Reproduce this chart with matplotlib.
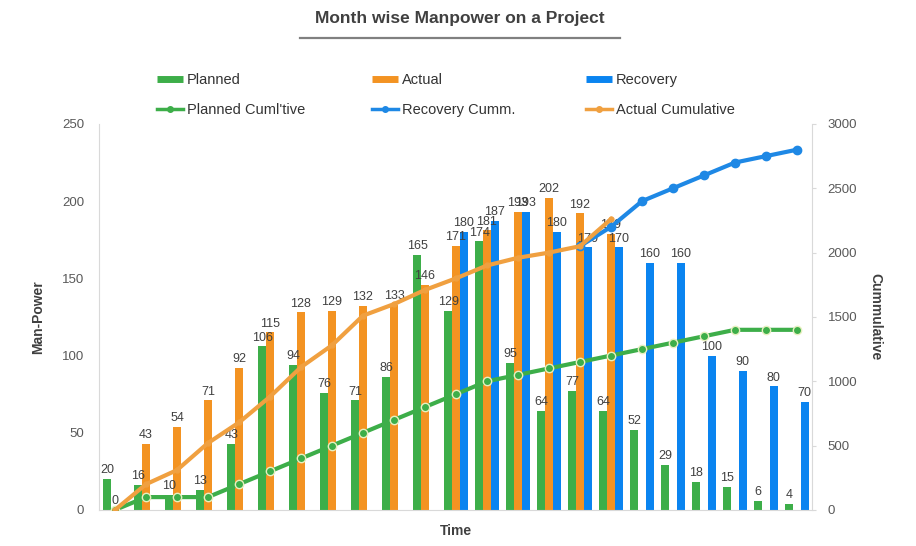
import matplotlib
matplotlib.use("Agg")
import matplotlib.pyplot as plt
from matplotlib.lines import Line2D
import numpy as np

plt.rcParams['font.family'] = ['Liberation Sans', 'DejaVu Sans']

# ---- data ----
months = list(range(1, 24))
planned = [20, 16, 10, 13, 43, 106, 94, 76, 71, 86, 165, 129, 174, 95, 64, 77, 64, 52, 29, 18, 15, 6, 4]
actual = [0, 43, 54, 71, 92, 115, 128, 129, 132, 133, 146, 171, 181, 193, 202, 192, 179]
recovery_start = 12
recovery = [180, 187, 193, 180, 170, 170, 160, 160, 100, 90, 80, 70]
planned_cum = [0, 100, 100, 100, 200, 300, 400, 500, 600, 700, 800, 900, 1000, 1050, 1100, 1150,
               1200, 1250, 1300, 1350, 1400, 1400, 1400]
actual_cum = [0, 200, 310, 520, 680, 880, 1110, 1280, 1510, 1600, 1710, 1800, 1900, 1960, 2000, 2050, 2260]
recovery_cum_start = 16
recovery_cum = [2050, 2200, 2400, 2500, 2600, 2700, 2750, 2800]

GREEN = '#3DAE49'
ORANGE = '#F39322'
BLUE = '#0A84F0'
ORANGE_L = '#F0A040'
BLUE_L = '#1E88E5'
TXT = '#404040'
GRID = '#D9D9D9'

fig = plt.figure(figsize=(9.16, 5.46), dpi=100)
ax = fig.add_axes([0.1086, 0.066, 0.7784, 0.707])
ax2 = ax.twinx()

x = np.arange(len(months))
w = 0.25
xa = np.arange(len(actual))
xr = np.arange(recovery_start - 1, recovery_start - 1 + len(recovery))

b1 = ax.bar(x - w, planned, w, color=GREEN, zorder=2)
b2 = ax.bar(xa, actual, w, color=ORANGE, zorder=2)
b3 = ax.bar(xr + w, recovery, w, color=BLUE, zorder=2)

for bars, vals in ((b1, planned), (b2, actual), (b3, recovery)):
    for r, v in zip(bars, vals):
        ax.annotate(str(v), (r.get_x() + r.get_width() / 2, v), xytext=(0, 2),
                    textcoords='offset points', ha='center', va='bottom',
                    fontsize=9, color=TXT, zorder=3)

ax.set_xlim(-0.5, len(months) - 0.5)
ax.set_ylim(0, 250)
ax.set_yticks(range(0, 251, 50))
ax.set_xticks([])

xrc = np.arange(recovery_cum_start - 1, recovery_cum_start - 1 + len(recovery_cum))
ax2.plot(x, planned_cum, color=GREEN, lw=3, marker='o', ms=6,
         mfc=GREEN, mec='#E8F0C0', mew=1, zorder=4)
ax2.plot(xrc, recovery_cum, color=BLUE_L, lw=3, marker='o', ms=6,
         mfc=BLUE_L, mec=BLUE_L, zorder=4)
ax2.plot(xa, actual_cum, color=ORANGE_L, lw=3, marker='o', ms=3.5,
         mfc=ORANGE_L, mec=ORANGE_L, zorder=5)
ax2.set_ylim(0, 3000)
ax2.set_yticks(range(0, 3001, 500))

for a in (ax, ax2):
    a.spines['top'].set_visible(False)
    for s in ('left', 'right', 'bottom'):
        a.spines[s].set_color(GRID)
ax.spines['right'].set_visible(False)
ax2.spines['left'].set_visible(False)
ax2.spines['bottom'].set_visible(False)

ax.tick_params(axis='y', length=0, pad=11, labelsize=9.5, labelcolor='#595959')
ax2.tick_params(axis='y', length=3, color=GRID, pad=8, labelsize=9.5, labelcolor='#595959')

ax.set_ylabel('Man-Power', fontsize=10, fontweight='bold', color=TXT, labelpad=12)
ax2.set_ylabel('Cummulative', fontsize=10, fontweight='bold', color=TXT,
               rotation=270, labelpad=18)
ax.set_xlabel('Time', fontsize=10, fontweight='bold', color=TXT, labelpad=10)

# title with underline
fig.text(460 / 916, 1 - 19 / 546, 'Month wise Manpower on a Project', ha='center', va='center',
         fontsize=12.5, fontweight='bold', color=TXT)
fig.add_artist(Line2D([300 / 916, 620 / 916], [1 - 38 / 546, 1 - 38 / 546],
                      color='#808080', lw=1.6, transform=fig.transFigure))

# legends
entries = [
    (Line2D([], [], color=GREEN, lw=5, solid_capstyle='butt'), 'Planned', 157, 80),
    (Line2D([], [], color=ORANGE, lw=5, solid_capstyle='butt'), 'Actual', 372, 80),
    (Line2D([], [], color=BLUE, lw=5, solid_capstyle='butt'), 'Recovery', 586, 80),
    (Line2D([], [], color=GREEN, lw=2.5, marker='o', ms=4), "Planned Cuml'tive", 157, 110),
    (Line2D([], [], color=BLUE_L, lw=2.5, marker='o', ms=4), 'Recovery Cumm.', 372, 110),
    (Line2D([], [], color=ORANGE_L, lw=2.5, marker='o', ms=4), 'Actual Cumulative', 586, 110),
]
for h, lab, px, py in entries:
    lg = fig.legend(handles=[h], labels=[lab], loc='center left',
                    bbox_to_anchor=(px / 916, 1 - py / 546), frameon=False,
                    fontsize=10.5, handlelength=1.75, handletextpad=0.3,
                    borderpad=0, borderaxespad=0)
    for t in lg.get_texts():
        t.set_color('#333333')

fig.savefig('out.png', dpi=100)
